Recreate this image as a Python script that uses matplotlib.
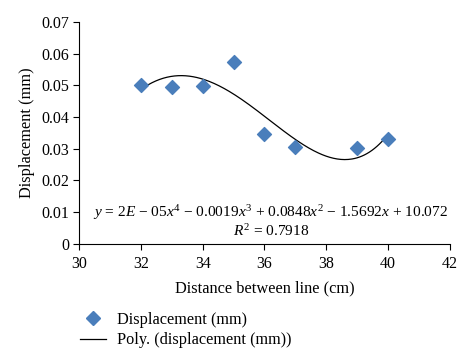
import numpy as np
import matplotlib.pyplot as plt
from matplotlib.lines import Line2D

plt.rcParams['font.family'] = ['Liberation Serif', 'DejaVu Serif']
plt.rcParams['mathtext.fontset'] = 'custom'
plt.rcParams['mathtext.rm'] = 'Liberation Serif'
plt.rcParams['mathtext.it'] = 'Liberation Serif:italic'

distance = [32, 33, 34, 35, 36, 37, 39, 40]
displacement = [0.0502, 0.0494, 0.0499, 0.0573, 0.0347, 0.0305, 0.0303, 0.0332]
x_ticks = [30, 32, 34, 36, 38, 40, 42]
y_ticks = [0, 0.01, 0.02, 0.03, 0.04, 0.05, 0.06, 0.07]
y_labels = ['0', '0.01', '0.02', '0.03', '0.04', '0.05', '0.06', '0.07']

fig = plt.figure(figsize=(4.74, 3.64), dpi=100)
ax = fig.add_axes([0.167, 0.330, 0.782, 0.610])

ax.scatter(distance, displacement, marker='D', s=50, color='#4a7ebb', zorder=3)

# poly trend (4th order) like excel
coef = np.polyfit(distance, displacement, 4)
xs = np.linspace(min(distance), max(distance), 200)
ax.plot(xs, np.polyval(coef, xs), color='black', lw=0.9)

ax.set_xlim(30, 42)
ax.set_ylim(0, 0.07)
ax.set_xticks(x_ticks)
ax.set_yticks(y_ticks)
ax.set_yticklabels(y_labels)
ax.tick_params(labelsize=11.5, direction='out', length=4, width=0.8, pad=3)
ax.tick_params(axis='x', pad=5)
for s in ['top', 'right']:
    ax.spines[s].set_visible(False)
ax.set_xlabel('Distance between line (cm)', fontsize=11.8, labelpad=6)
ax.set_ylabel('Displacement (mm)', fontsize=11.8, labelpad=5)

ax.text(0.517, 0.142,
        r'$y$ = 2$E$ − 05$x^4$ − 0.0019$x^3$ + 0.0848$x^2$ − 1.5692$x$ + 10.072',
        transform=ax.transAxes, ha='center', va='center', fontsize=11.1)
ax.text(0.517, 0.057, r'$R^2$ = 0.7918', transform=ax.transAxes,
        ha='center', va='center', fontsize=11.1)

handles = [Line2D([], [], marker='D', ls='none', color='#4a7ebb', markersize=7.5),
           Line2D([], [], color='black', lw=0.9)]
fig.legend(handles, ['Displacement (mm)', 'Poly. (displacement (mm))'],
           loc='upper left', bbox_to_anchor=(80 / 474, 0.144), frameon=False,
           borderaxespad=0, borderpad=0, fontsize=11.7, handlelength=1.6,
           handletextpad=0.7, labelspacing=0.3)

fig.savefig('out.png', dpi=100)
